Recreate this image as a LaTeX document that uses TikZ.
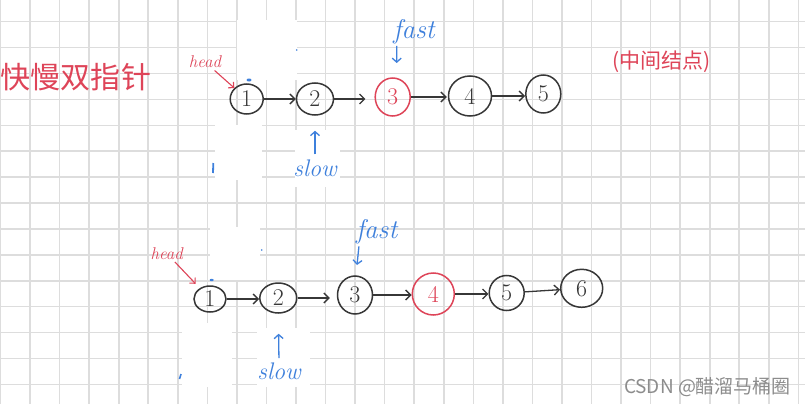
\documentclass[tikz,border=0pt]{standalone}
\usepackage{fontspec}
\newfontfamily\cjk{Noto Sans CJK SC}
\usetikzlibrary{shapes.geometric,arrows.meta}
\definecolor{gridc}{RGB}{221,221,221}
\definecolor{inkred}{RGB}{222,68,88}
\definecolor{inkblue}{RGB}{62,128,220}
\definecolor{inkdark}{RGB}{55,55,55}
\definecolor{wmark}{RGB}{140,140,140}
\begin{document}
\begin{tikzpicture}[x=1pt,y=-1pt,
  gridline/.style={gridc,line width=1.6pt},
  patch/.style={fill=white,draw=none},
  lnode/.style={ellipse,draw=inkdark,line width=1.5pt,inner sep=0pt,text=inkdark,font=\fontsize{24}{24}\selectfont},
  rnode/.style={lnode,draw=inkred,text=inkred},
  link/.style={draw=inkdark,line width=1.3pt,-{Straight Barb[length=5pt,width=10pt]}},
  redtxt/.style={text=inkred,inner sep=1pt},
  bluetxt/.style={text=inkblue,inner sep=1pt},
  redarr/.style={draw=inkred,line width=1.1pt,-{Straight Barb[length=4pt,width=8pt]}},
  bluearr/.style={draw=inkblue,line width=1.3pt,-{Straight Barb[length=4pt,width=9pt]}},
  bluemark/.style={fill=inkblue}
]
\useasboundingbox (0,0) rectangle (805,404);
\fill[white] (0,0) rectangle (805,404);
% grid paper
\foreach \k in {0,...,27} \draw[gridline] ({0.5+29.55*\k},0) -- ({0.5+29.55*\k},404);
\foreach \k in {1,...,15} \draw[gridline] (0,{-4.2+25.9*\k}) -- (805,{-4.2+25.9*\k});
% blanked-out patches
\fill[patch] (236.7,20) rectangle (296.7,80);
\fill[patch] (215,125) rectangle (261.7,180);
\fill[patch] (295,130) rectangle (340,186.7);
\fill[patch] (210,226.7) rectangle (260,280);
\fill[patch] (181.7,323.3) rectangle (231.7,386.7);
\fill[patch] (256.7,328.3) rectangle (310,386.7);
% leftover blue marks
\fill[bluemark] (249,80) ellipse (2.5pt and 1.5pt);
\fill[bluemark] (296.7,50) circle (0.9pt);
\draw[inkblue,line width=1.8pt] (213.3,163) -- (213,173);
\fill[bluemark] (211.7,280) ellipse (2pt and 1.2pt);
\fill[bluemark] (261.7,250) circle (0.9pt);
\draw[inkblue,line width=1.6pt] (181,374) -- (179.5,379);
% titles
\node[redtxt,font=\cjk\fontsize{30}{30}\selectfont] (title) at (76,77) {快慢双指针};
\node[redtxt,font=\cjk\fontsize{21}{21}\selectfont] (mid) at (661.7,61.5) {(中间结点)};
% top list
\node[lnode,minimum width=33pt,minimum height=30pt] (a1) at (246.7,99) {1};
\node[lnode,minimum width=37pt,minimum height=32pt] (a2) at (315,99) {2};
\node[rnode,minimum width=35pt,minimum height=38pt] (a3) at (392.7,97) {3};
\node[lnode,minimum width=43pt,minimum height=40pt] (a4) at (470,96) {4};
\node[lnode,minimum width=35pt,minimum height=38pt] (a5) at (543.3,94) {5};
\draw[link] (a1) -- (a1 -| a2.west);
\draw[link,shorten >=9pt] (a2) -- (a2 -| a3.west);
\draw[link,shorten >=1pt] (a3) -- (a3 -| a4.west);
\draw[link] (a4) -- (a4 -| a5.west);
\node[redtxt,font=\fontsize{17}{17}\selectfont\itshape] (h1) at (205,62) {head};
\draw[redarr,shorten <=2pt] (h1) -- (a1);
\node[bluetxt,font=\fontsize{27}{27}\selectfont\itshape] (f1) at (414,31.5) {fast};
\coordinate (f1tip) at (396.7,63);
\draw[bluearr] ([xshift=4.5pt,yshift=-1pt]f1.south west) -- (f1tip);
\node[bluetxt,font=\fontsize{24}{24}\selectfont\itshape] (s1) at (315,168) {slow};
\draw[bluearr,shorten <=4pt,shorten >=15pt] (s1.north) -- (a2.south);
% bottom list
\node[lnode,minimum width=32pt,minimum height=26pt] (b1) at (210,299) {1};
\node[lnode,minimum width=37pt,minimum height=30pt] (b2) at (278.3,298) {2};
\node[lnode,minimum width=35pt,minimum height=38pt] (b3) at (355,295) {3};
\node[rnode,minimum width=42pt,minimum height=42pt] (b4) at (433.3,294) {4};
\node[lnode,minimum width=35pt,minimum height=35pt] (b5) at (506.7,293) {5};
\node[lnode,minimum width=42pt,minimum height=38pt] (b6) at (581.7,288.3) {6};
\draw[link] (b1) -- (b1 -| b2.west);
\draw[link,shorten >=7pt] (b2) -- (b2 -| b3.west);
\draw[link] (b3) -- (b3 -| b4.west);
\draw[link] (b4) -- (b4 -| b5.west);
\draw[link] (b5) -- (b6);
\node[redtxt,font=\fontsize{17}{17}\selectfont\itshape] (h2) at (166.7,253.3) {head};
\draw[redarr,shorten <=2pt,shorten >=6pt] (h2) -- (b1);
\node[bluetxt,font=\fontsize{27}{27}\selectfont\itshape] (f2) at (376.7,232) {fast};
\coordinate (f2tip) at (357,265);
\draw[bluearr] ([xshift=4pt,yshift=-1pt]f2.south west) -- (f2tip);
\node[bluetxt,font=\fontsize{24}{24}\selectfont\itshape] (s2) at (279,371.7) {slow};
\draw[bluearr,shorten <=4pt,shorten >=20pt] (s2.north) -- (b2.south);
% watermark
\node[text=wmark,font=\cjk\fontsize{19}{19}\selectfont,inner sep=0pt] (wm) at (707.5,386.7) {CSDN @醋溜马桶圈};
\end{tikzpicture}
\end{document}
